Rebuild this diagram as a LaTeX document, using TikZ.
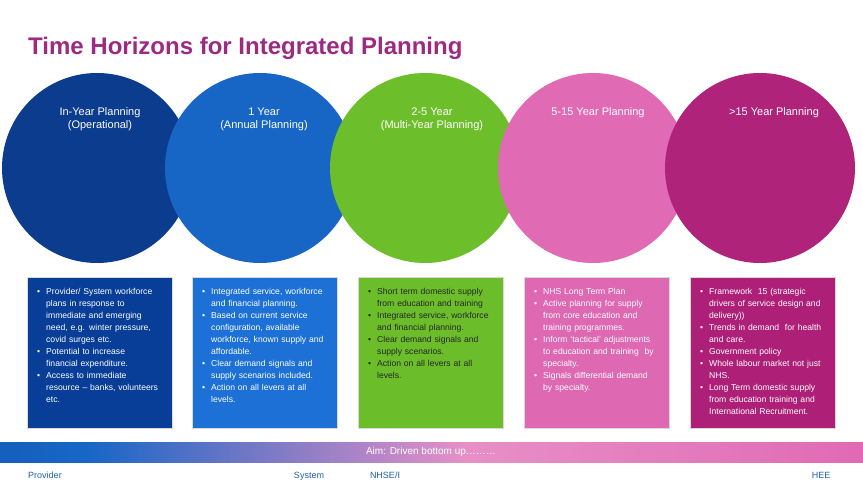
\documentclass[tikz,border=0pt]{standalone}
\usepackage{fontspec}
\setmainfont{Liberation Sans}
\definecolor{cA}{HTML}{0B3C8E}
\definecolor{bA}{HTML}{083D98}
\definecolor{cB}{HTML}{1766C6}
\definecolor{bB}{HTML}{1C70D6}
\definecolor{cC}{HTML}{6DBE2B}
\definecolor{bC}{HTML}{6CBD2A}
\definecolor{cD}{HTML}{E06AB4}
\definecolor{bD}{HTML}{DE68B2}
\definecolor{cE}{HTML}{B0237A}
\definecolor{bE}{HTML}{AE2078}
\definecolor{ttl}{HTML}{9C2A82}
\definecolor{lbl}{HTML}{1F5FB0}
\pgfdeclarehorizontalshading{barsh}{100bp}{color(0bp)=(cA); color(30bp)=(cB); color(52bp)=(cD!75!white); color(75bp)=(cD); color(100bp)=(cE)}
\newcommand{\bsetup}{\hyphenpenalty=10000 \exhyphenpenalty=10000 \rightskip=0pt plus 40pt\relax}
\newcommand{\bl}[1]{\par\hangindent=13pt\hangafter=1\noindent\makebox[13pt][l]{\hspace{4pt}•}#1\par}
\tikzset{
 circ/.style={circle,minimum size=190pt,inner sep=0pt},
 ctitle/.style={text=white,font=\fontsize{11}{13}\selectfont,align=center},
 box/.style={draw=white!70!gray,line width=0.6pt,minimum width=145pt,minimum height=151pt,anchor=north west,inner sep=0pt},
 btext/.style={text=white,font=\fontsize{8.6}{12}\selectfont,text width=126pt,anchor=north west,inner sep=0pt},
 foot/.style={text=lbl,font=\fontsize{9}{11}\selectfont,anchor=base}
}
\begin{document}
\begin{tikzpicture}[x=1pt,y=-1pt]
\useasboundingbox (0,0) rectangle (863,489);
\fill[white] (0,0) rectangle (863,489);
\node[anchor=base west,text=ttl,font=\bfseries\fontsize{24}{28}\selectfont,inner sep=0pt] (title) at (28,55) {Time Horizons for Integrated Planning};
\node[circ,fill=cA] (c1) at (97,168) {};
\node[circ,fill=cB] (c2) at (260,168) {};
\node[circ,fill=cC] (c3) at (425,168) {};
\node[circ,fill=cD] (c4) at (593,168) {};
\node[circ,fill=cE] (c5) at (760,168) {};
\node[ctitle,anchor=north] (t1) at (100,104) {In-Year Planning\\(Operational)};
\node[ctitle,anchor=north] (t2) at (264,104) {1 Year\\(Annual Planning)};
\node[ctitle,anchor=north] (t3) at (432,104) {2-5 Year\\(Multi-Year Planning)};
\node[ctitle,anchor=north] (t4) at (598,104) {5-15 Year Planning};
\node[ctitle,anchor=north] (t5) at (774,104) {>15 Year Planning};
\node[box,fill=bA] (b1) at (27,277) {};
\node[box,fill=bB] (b2) at (192,277) {};
\node[box,fill=bC] (b3) at (358,277) {};
\node[box,fill=bD] (b4) at (524,277) {};
\node[box,fill=bE] (b5) at (690,277) {};
\node[btext] (x1) at ([xshift=6pt,yshift=-5pt]b1.north west) {\bsetup\bl{Provider/ System workforce plans in response to immediate and emerging need, e.g. winter pressure, covid surges etc.}\bl{Potential to increase financial expenditure.}\bl{Access to immediate resource -- banks, volunteers etc.}};
\node[btext] (x2) at ([xshift=6pt,yshift=-5pt]b2.north west) {\bsetup\bl{Integrated service, workforce and financial planning.}\bl{Based on current service configuration, available workforce, known supply and affordable.}\bl{Clear demand signals and supply scenarios included.}\bl{Action on all levers at all levels.}};
\node[btext,text=black!85] (x3) at ([xshift=6pt,yshift=-5pt]b3.north west) {\bsetup\bl{Short term domestic supply from education and training}\bl{Integrated service, workforce and financial planning.}\bl{Clear demand signals and supply scenarios.}\bl{Action on all levers at all levels.}};
\node[btext] (x4) at ([xshift=6pt,yshift=-5pt]b4.north west) {\bsetup\bl{NHS Long Term Plan}\bl{Active planning for supply from core education and training programmes.}\bl{Inform `tactical' adjustments to education and training\ \ by specialty.}\bl{Signals differential demand by specialty.}};
\node[btext] (x5) at ([xshift=6pt,yshift=-5pt]b5.north west) {\bsetup\bl{Framework\ \ 15 (strategic drivers of service design and delivery))}\bl{Trends in demand\ \ for health and care.}\bl{Government policy}\bl{Whole labour market not just NHS.}\bl{Long Term domestic supply from education training and International Recruitment.}};
\shade[shading=barsh] (0,442) rectangle (863,462);
\node[anchor=center,text=white,font=\fontsize{10}{12}\selectfont,inner sep=0pt] (aim) at (431,452) {Aim: Driven bottom up………};
\node[foot] (f1) at (45,478) {Provider};
\node[foot] (f2) at (309,478) {System};
\node[foot] (f3) at (385,478) {NHSE/I};
\node[foot] (f4) at (821,478) {HEE};
\end{tikzpicture}
\end{document}
